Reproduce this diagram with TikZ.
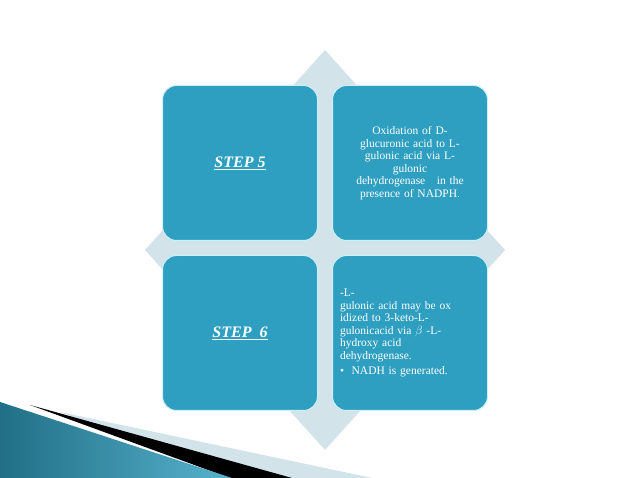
\documentclass[tikz,border=0pt]{standalone}
\usepackage{fontspec}
\setmainfont{Liberation Serif}
\begin{document}
\begin{tikzpicture}[x=1pt,y=-1pt,
  box/.style={draw=white!80!cyan, line width=1pt, fill=boxc, rounded corners=14pt, minimum width=155pt, minimum height=155pt, text=white, inner sep=6pt},
  steptxt/.style={font=\bfseries\itshape\fontsize{16}{18}\selectfont},
  body/.style={font=\fontsize{11.5}{12.5}\selectfont, text width=140pt}]
\definecolor{boxc}{HTML}{2E9FC0}
\definecolor{dia}{HTML}{D3E3EA}
\useasboundingbox (0,0) rectangle (638,478);
\fill[white] (0,0) rectangle (638,478);
% decoration
\fill[dia] (60,412) -- (372,478) -- (230,478) -- cycle;
\fill[black] (30,405) -- (292,478) -- (230,478) -- cycle;
\shade[left color=boxc!70!black, right color=boxc!80!white] (0,402) -- (232,478) -- (0,478) -- cycle;
% diamond
\fill[dia] (325,50) -- (505,250) -- (325,450) -- (145,250) -- cycle;
\node[box, steptxt] (s5) at (240,163) {\underline{STEP 5}};
\node[box, body, align=center] (t5) at (410,163) {Oxidation of D-\\ glucuronic acid to L-\\ gulonic acid via L-\\ gulonic\\ dehydrogenase \ \ in the\\ presence of NADPH.};
\node[box, steptxt] (s6) at (240,333) {\underline{STEP\ \ 6}};
\node[box, body, align=left] (t6) at (410,333) {\begin{minipage}{140pt}\raggedright -L-\\ gulonic acid may be ox\\ idized to 3-keto-L-\\ gulonicacid via $\beta$ -L-\\ hydroxy acid\\ dehydrogenase.\\[3pt] \textbullet\ \ NADH is generated.\end{minipage}};
\end{tikzpicture}
\end{document}
